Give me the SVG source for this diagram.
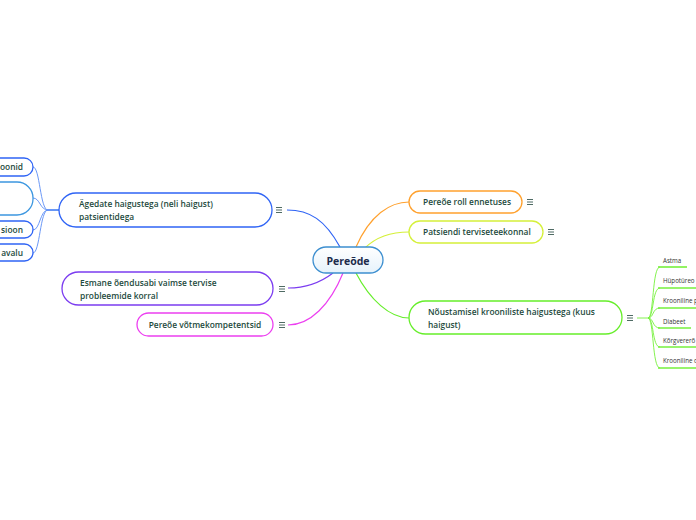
<svg xmlns="http://www.w3.org/2000/svg" width="696" height="520" viewBox="0 0 696 520">
<style>
.t{font-family:"Open Sans","Noto Sans","Liberation Sans",sans-serif;font-weight:600;font-size:8.4px;fill:#1d4a3c}
.c{font-family:"Open Sans","Noto Sans","Liberation Sans",sans-serif;font-weight:700;font-size:10.5px;fill:#1c2b4b}
.l{font-family:"Open Sans","Noto Sans","Liberation Sans",sans-serif;font-size:6.2px;fill:#333}
.box{fill:#fff;stroke-width:1.3}
.con{fill:none;stroke-width:1.2}
.ic{stroke:#3b5a52;stroke-width:0.9}
</style>
<defs>
<symbol id="menu" viewBox="0 0 8 7" width="8" height="7" overflow="visible">
<line class="ic" x1="0" y1="0.5" x2="6" y2="0.5"/>
<line class="ic" x1="0" y1="3" x2="6" y2="3"/>
<line class="ic" x1="0" y1="5.5" x2="6" y2="5.5"/>
</symbol>
<linearGradient id="cg" x1="0" y1="0" x2="0" y2="1">
<stop offset="0" stop-color="#ffffff"/><stop offset="1" stop-color="#e6f2fb"/>
</linearGradient>
</defs>
<rect width="696" height="520" fill="#fff"/>
<g id="connectors">
<path class="con" stroke="#2f64f5" d="M340,247 C325,220 310,210 287,210"/>
<path class="con" stroke="#7b3cf0" d="M333,273 C320,283 305,288 288,288"/>
<path class="con" stroke="#ec3ff0" d="M343,273 C330,305 310,325 288,325"/>
<path class="con" stroke="#ffa12e" d="M356,247 C370,215 390,202 409,202"/>
<path class="con" stroke="#d5f03a" d="M365,248 C375,238 390,232 409,232"/>
<path class="con" stroke="#66ee2a" d="M356,273 C370,300 390,318 409,318"/>
<g stroke="#5a8cf5" fill="none" stroke-width="0.9">
<path d="M59,210 L48,210 C40,210 40,167 33,167"/>
<path d="M59,210 L48,210 C40,210 40,198 33,198"/>
<path d="M59,210 L48,210 C40,210 40,230 33,230"/>
<path d="M59,210 L48,210 C40,210 40,253 33,253"/>
</g>
<g stroke="#76f03c" fill="none" stroke-width="0.9">
<path d="M637,318 L648,318 C654,318 652,267 660,267"/>
<path d="M648,318 C654,318 652,288 660,288"/>
<path d="M648,318 C654,318 652,308 660,308"/>
<path d="M648,318 C654,318 652,328 660,328"/>
<path d="M648,318 C654,318 652,347 660,347"/>
<path d="M648,318 C654,318 652,368 660,368"/>
</g>
</g>
<g id="n-center">
<rect x="313" y="247" width="70" height="26" rx="13" fill="url(#cg)" stroke="#3d8fd0" stroke-width="1.3"/>
<text class="c" x="348" y="264.5" text-anchor="middle">Pereõde</text>
</g>
<g id="n-agedate">
<rect class="box" x="59" y="193" width="213" height="34" rx="17" stroke="#2f64f5"/>
<text class="t" x="79" y="207">Ägedate haigustega (neli haigust)</text>
<text class="t" x="79" y="219.5">patsientidega</text>
<use href="#menu" x="276" y="207"/>
</g>
<g id="n-left1">
<rect class="box" x="-40" y="158" width="73" height="18" rx="9" stroke="#2f64f5"/>
<text class="t" x="23" y="170" text-anchor="end">oonid</text>
</g>
<g id="n-left2">
<rect class="box" x="-40" y="182" width="73" height="33" rx="16" stroke="#3c97e0"/>
</g>
<g id="n-left3">
<rect class="box" x="-40" y="221" width="73" height="17" rx="8.5" stroke="#2f64f5"/>
<text class="t" x="23" y="233" text-anchor="end">sioon</text>
</g>
<g id="n-left4">
<rect class="box" x="-40" y="244" width="73" height="17" rx="8.5" stroke="#2f64f5"/>
<text class="t" x="23" y="256" text-anchor="end">avalu</text>
</g>
<g id="n-esmane">
<rect class="box" x="62" y="272" width="211" height="33" rx="16.5" stroke="#7b3cf0"/>
<text class="t" x="80" y="286">Esmane õendusabi vaimse tervise</text>
<text class="t" x="80" y="298.5">probleemide korral</text>
<use href="#menu" x="279" y="286"/>
</g>
<g id="n-vootme">
<rect class="box" x="137" y="313" width="136" height="23" rx="11.5" stroke="#ec3ff0"/>
<text class="t" x="205" y="328" text-anchor="middle">Pereõe võtmekompetentsid</text>
<use href="#menu" x="279" y="322"/>
</g>
<g id="n-roll">
<rect class="box" x="409" y="191" width="113" height="22" rx="11" stroke="#ffa12e"/>
<text class="t" x="423" y="205">Pereõe roll ennetuses</text>
<use href="#menu" x="527" y="199"/>
</g>
<g id="n-patsiendi">
<rect class="box" x="409" y="221" width="134" height="22" rx="11" stroke="#d5f03a"/>
<text class="t" x="423" y="235">Patsiendi terviseteekonnal</text>
<use href="#menu" x="548" y="229"/>
</g>
<g id="n-noustamisel">
<rect class="box" x="409" y="301" width="213" height="33" rx="16.5" stroke="#66ee2a"/>
<text class="t" x="428" y="315">Nõustamisel krooniliste haigustega (kuus</text>
<text class="t" x="428" y="327.5">haigust)</text>
<use href="#menu" x="627" y="315"/>
</g>
<g stroke="#76f03c" stroke-width="1.6">
<g id="leaf-astma"><line x1="658" y1="267" x2="687" y2="267"/><text class="l" x="663" y="263" stroke="none">Astma</text></g>
<g id="leaf-hypo"><line x1="658" y1="288" x2="696" y2="288"/><text class="l" x="663" y="283" stroke="none">Hüpotüreo</text></g>
<g id="leaf-kroon1"><line x1="658" y1="308" x2="696" y2="308"/><text class="l" x="663" y="303" stroke="none">Krooniline p</text></g>
<g id="leaf-diabeet"><line x1="658" y1="328" x2="691" y2="328"/><text class="l" x="663" y="323.5" stroke="none">Diabeet</text></g>
<g id="leaf-korg"><line x1="658" y1="347" x2="696" y2="347"/><text class="l" x="663" y="343" stroke="none">Kõrgvererõ</text></g>
<g id="leaf-kroon2"><line x1="658" y1="368" x2="696" y2="368"/><text class="l" x="663" y="363" stroke="none">Krooniline o</text></g>
</g>
</svg>
